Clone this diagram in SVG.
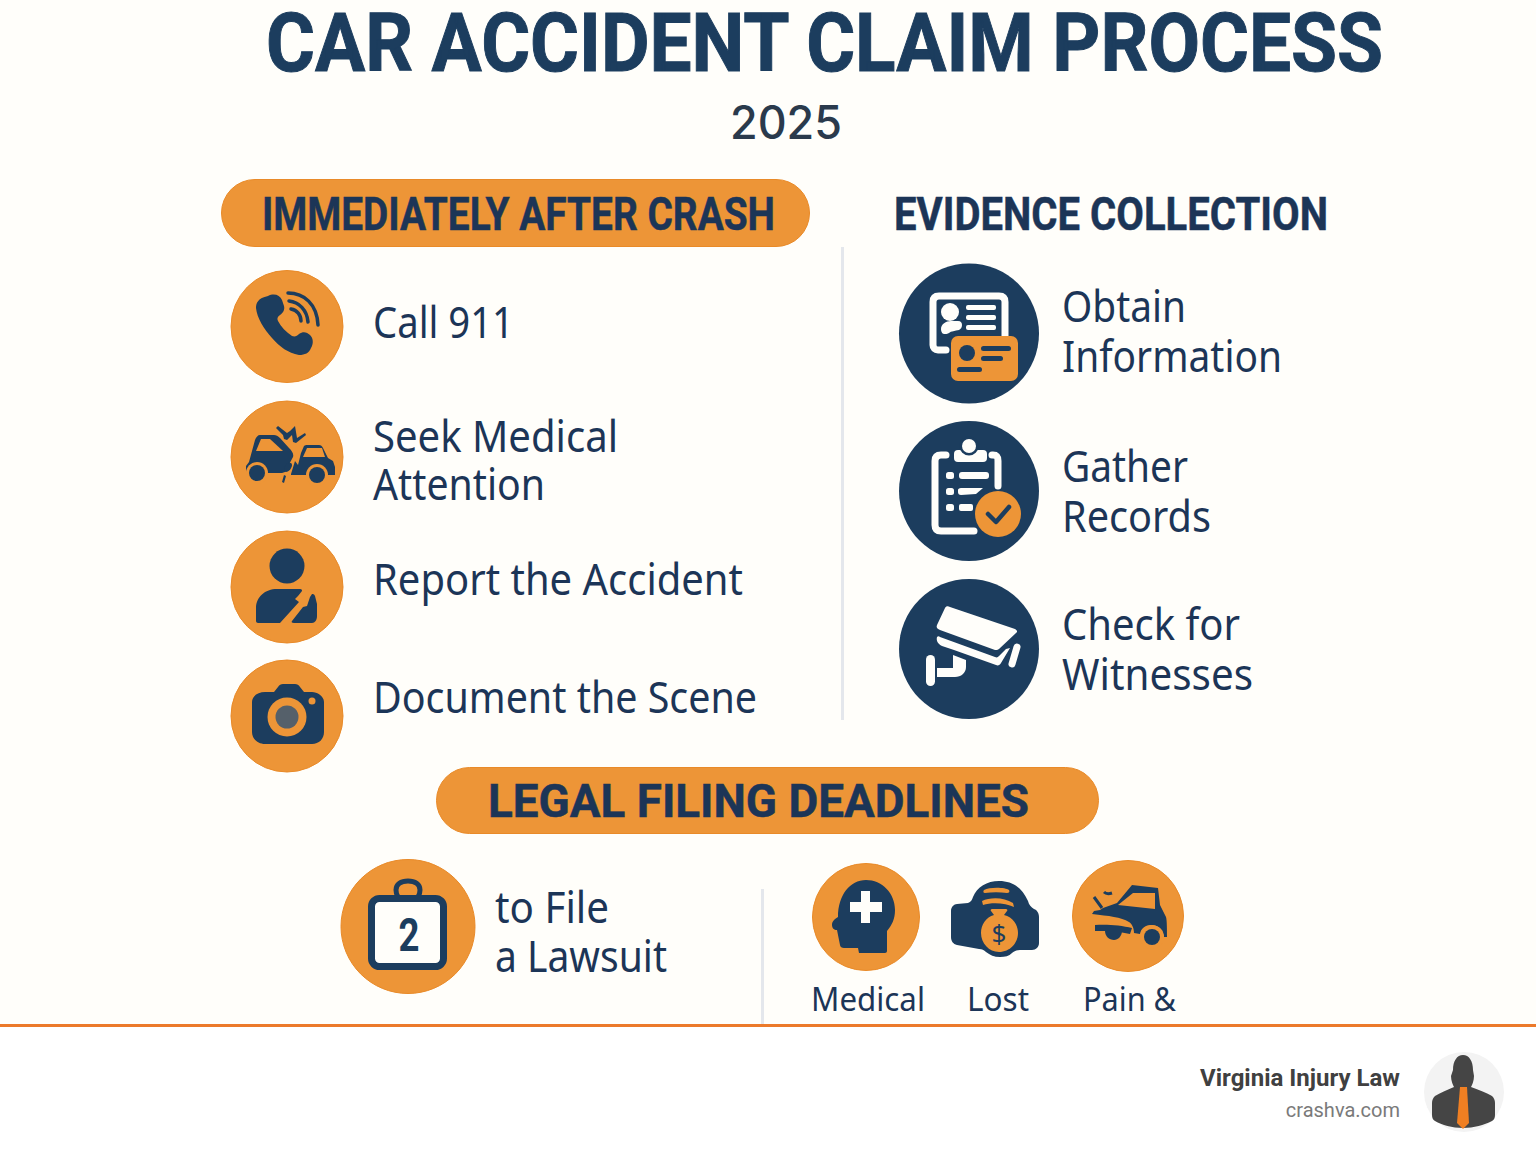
<svg xmlns="http://www.w3.org/2000/svg" width="1536" height="1154" viewBox="0 0 1536 1154">
<style>
.n{fill:#1c3d5e}.o{fill:#ed9537}.w{fill:#fffefa}
.oc{fill:#ed9537;stroke:#e98a28;stroke-width:1}
.nc{fill:#1c3d5e}
text{font-family:"Noto Sans","Liberation Sans",sans-serif;fill:#1c3557}
.t{font-size:44px}
.h{font-family:"Roboto","Liberation Sans",sans-serif;font-weight:700;font-size:46px;fill:#1c3557;stroke:#1c3557;stroke-width:.5}
.s{font-size:32px}
</style>
<rect width="1536" height="1154" fill="#fffefa"/>
<g id="title">
<text x="266" y="71" textLength="1117" lengthAdjust="spacingAndGlyphs" style="font-family:Roboto,'Liberation Sans',sans-serif;font-weight:700;font-size:82px;fill:#1c3d5e;stroke:#1c3d5e;stroke-width:1">CAR ACCIDENT CLAIM PROCESS</text>
<text x="730" y="139" textLength="112" lengthAdjust="spacingAndGlyphs" style="font-family:Inter,'Liberation Sans',sans-serif;font-weight:500;font-size:46px;fill:#2a3a4c">2025</text>
</g>
<g id="dividers" fill="#e4e7ec">
<rect x="841" y="247" width="3" height="473"/>
<rect x="761" y="889" width="3" height="136"/>
</g>
<g id="header-immediate">
<rect x="221.500" y="179.500" width="588" height="67" rx="33.500" class="oc"/>
<text class="h" x="262" y="230" textLength="513" lengthAdjust="spacingAndGlyphs">IMMEDIATELY AFTER CRASH</text>
</g>
<g id="header-evidence">
<text class="h" x="894" y="230" textLength="434" lengthAdjust="spacingAndGlyphs">EVIDENCE COLLECTION</text>
</g>
<g id="call-911">
<circle cx="287" cy="326.500" r="56" class="oc"/>
<path class="n" d="M268 296c6-3 12-1 14 4l2 6c1 4-1 7-4 9-3 2-3 4-2 6 3 6 8 11 14 15 3 1 5 0 7-2 4-3 8-2 11 1 3 3 4 8 1 13-2 5-6 7-12 7-11-2-19-8-27-17-8-9-15-20-16-30 0-5 2-10 12-12z"/>
<g fill="none" stroke="#1c3d5e" stroke-width="3.500" stroke-linecap="round"><path d="M288 293c16 0 29 11 30 32"/><path d="M289 301c10 1 18 9 19 21"/><path d="M291 309c6 1 10 6 10 12"/></g>
<text class="t" x="373" y="338" textLength="141" lengthAdjust="spacingAndGlyphs">Call 911</text>
</g>
<g id="seek-medical">
<circle cx="287" cy="457" r="56" class="oc"/>
<path class="n" d="M246 466l3-4 6-22c1-3 3-5 5-5h14c2 0 4 1 6 3l9 10c3 3 5 6 4 9l-8 15-3 1h-33c-3 0-3-3-3-7z"/>
<path class="o" d="M256 451l5-12h9l13 12z"/>
<circle cx="257" cy="473" r="11" class="o"/><circle cx="257" cy="473" r="8" class="n"/>
<path class="n" d="M291 474l4-13 3 4 3-12 3-7c1-1 2-1 3-1h12c2 0 3 1 4 3l5 10 5 3 2 6v8h-44z"/>
<path class="o" d="M303 457l4-9h15l3 9z"/>
<circle cx="317" cy="475" r="11" class="o"/><circle cx="317" cy="475" r="8" class="n"/>
<path class="n" d="M276 428l2-2 9 7 3-2 5-5 2 12 8-5 1 2-10 8-3-1-1-7-5 5-3-1-1-4z"/>
<path class="n" d="M286 465c2-3 6-3 6 0 0 3-3 7-6 7-3 0-2-4 0-7zM284 475l2 1-2 7-2-1z"/>
<text class="t" x="373" y="452" textLength="245" lengthAdjust="spacingAndGlyphs">Seek Medical</text>
<text class="t" x="373" y="500" textLength="172" lengthAdjust="spacingAndGlyphs">Attention</text>
</g>
<g id="report-accident">
<circle cx="287" cy="587" r="56" class="oc"/>
<circle cx="287" cy="566" r="17.500" class="n"/>
<path class="n" d="M256 621v-13c0-11 9-19 21-19h23c2 0 2 1 2 2l-4 5-3 3 4 3-19 21h-22c-1 0-2-1-2-2z"/>
<path class="n" d="M292 621l11-14 4-1 3-9 2-3c1 0 2 0 3 2l2 8v12c0 4-2 7-5 7h-18c-2 0-3-1-2-2z"/>
<text class="t" x="373" y="595" textLength="370" lengthAdjust="spacingAndGlyphs">Report the Accident</text>
</g>
<g id="document-scene">
<circle cx="287" cy="716" r="56" class="oc"/>
<path class="n" d="M265 692h9l4-5c1-2 3-3 5-3h12c2 0 4 1 5 3l4 5h8c5 0 12 4 12 10v30c0 7-5 12-12 12h-47c-7 0-13-5-13-12v-30c0-6 6-10 13-10z"/>
<circle cx="287" cy="717" r="19.500" class="o"/>
<circle cx="287" cy="717" r="11.500" fill="#55606a"/>
<circle cx="312" cy="701" r="3.500" class="o"/>
<text class="t" x="373" y="713" textLength="384" lengthAdjust="spacingAndGlyphs">Document the Scene</text>
</g>
<g id="obtain-information">
<circle cx="969" cy="333.500" r="70" class="nc"/>
<path fill="none" stroke="#fffefa" stroke-width="7" stroke-linecap="round" stroke-linejoin="round" d="M1005 336v-34c0-4-2-6-6-6h-60c-4 0-6 2-6 6v43c0 3 2 5 5 5h8"/>
<circle cx="950" cy="312" r="9" class="w"/>
<path class="w" d="M941 329c0-5 5-8 10-8h7c3 0 4 2 4 4 0 2-1 4-3 5-4 1-8 1-10 3-1 1-4 1-5 1-2 0-3-3-3-5z"/>
<g fill="#fffefa"><rect x="966" y="305" width="30" height="5" rx="2"/><rect x="966" y="315" width="30" height="5" rx="2"/><rect x="966" y="325" width="30" height="5" rx="2"/></g>
<rect x="951" y="336" width="67" height="45" rx="7" class="o"/>
<circle cx="967" cy="353" r="8" class="n"/>
<g fill="#1c3d5e"><rect x="981" y="346" width="30" height="5" rx="2.500"/><rect x="981" y="356" width="22" height="5" rx="2.500"/><rect x="957" y="367" width="25" height="5" rx="2.500"/></g>
<text class="t" x="1062" y="322" textLength="124" lengthAdjust="spacingAndGlyphs">Obtain</text>
<text class="t" x="1062" y="372" textLength="220" lengthAdjust="spacingAndGlyphs">Information</text>
</g>
<g id="gather-records">
<circle cx="969" cy="491" r="70" class="nc"/>
<path fill="none" stroke="#fffefa" stroke-width="7" stroke-linecap="round" stroke-linejoin="round" d="M946 455h-5c-4 0-6 2-6 6v64c0 4 2 6 6 6h33M992 455h1c4 0 5 2 5 6v25"/>
<rect x="954" y="450" width="33" height="12" rx="4" class="w"/>
<circle cx="969" cy="446" r="9.500" class="n"/>
<circle cx="969" cy="446" r="7" class="w"/>
<g fill="#fffefa"><rect x="946" y="472" width="8" height="7" rx="2.500"/><rect x="946" y="488" width="8" height="7" rx="2.500"/><rect x="946" y="504" width="8" height="7" rx="2.500"/><rect x="959" y="472" width="30" height="7" rx="3"/><path d="M961 488h22l-7 6-15 1c-2 0-3-1-3-3v-2c0-1 1-2 3-2z"/><rect x="959" y="504" width="14" height="7" rx="2"/></g>
<circle cx="998" cy="514" r="23" class="o"/>
<path fill="none" stroke="#1c3d5e" stroke-width="4.500" stroke-linecap="round" stroke-linejoin="round" d="M988 514l8 8 13-15"/>
<text class="t" x="1062" y="482" textLength="126" lengthAdjust="spacingAndGlyphs">Gather</text>
<text class="t" x="1062" y="532" textLength="149" lengthAdjust="spacingAndGlyphs">Records</text>
</g>
<g id="check-witnesses">
<circle cx="969" cy="649" r="70" class="nc"/>
<path class="w" d="M945 608c1-2 3-2 5-1l65 22c2 1 3 3 1 4l-17 16c-1 1-3 1-4 1l-55-20c-3-1-4-3-3-5z"/>
<path class="w" d="M937 637c1-1 2-1 3 0l55 20c2 1 3 0 4-1l7-7 4-1-9 15c-1 2-3 3-5 2l-42-15-12-4c-4-2-6-5-5-9z"/>
<path class="w" d="M937 668h16v-13l13 5v7c0 6-5 10-11 10h-18z"/>
<rect x="926" y="655" width="9" height="31" rx="4.500" class="w"/>
<path d="M1012 664l5-17" stroke="#fffefa" stroke-width="7" stroke-linecap="round"/>
<text class="t" x="1062" y="640" textLength="178" lengthAdjust="spacingAndGlyphs">Check for</text>
<text class="t" x="1062" y="690" textLength="191" lengthAdjust="spacingAndGlyphs">Witnesses</text>
</g>
<g id="header-legal">
<rect x="436.500" y="767.500" width="662" height="66" rx="33" class="oc"/>
<text class="h" x="488" y="817" textLength="541" lengthAdjust="spacingAndGlyphs">LEGAL FILING DEADLINES</text>
</g>
<g id="to-file-lawsuit">
<circle cx="408" cy="926.500" r="67" class="oc"/>
<path fill="none" stroke="#1c3d5e" stroke-width="5" d="M398 897c-2-3-2-5-2-7 0-6 5-9 12-9s12 3 12 9c0 2 0 4-2 7"/>
<rect x="371.500" y="898.500" width="72" height="68" rx="8" fill="#fffefa" stroke="#1c3d5e" stroke-width="7"/>
<text x="409" y="951" text-anchor="middle" textLength="21" lengthAdjust="spacingAndGlyphs" style="font-family:Roboto,sans-serif;font-weight:700;font-size:46px;fill:#1c3d5e">2</text>
<text class="t" x="495" y="923" textLength="114" lengthAdjust="spacingAndGlyphs">to File</text>
<text class="t" x="495" y="972" textLength="172" lengthAdjust="spacingAndGlyphs">a Lawsuit</text>
</g>
<g id="medical">
<circle cx="866" cy="917" r="53.500" class="oc"/>
<path class="n" d="M838 917c0-22 12-37 28-37 16 0 29 13 29 30 0 9-3 15-8 21v20c0 1-1 2-2 2h-26l-1-5h-14c-2 0-4-1-4-3l-3-15c-3 0-5-2-5-5 0-4 3-6 6-8z"/>
<path class="w" d="M861 891h9v11h12v10h-12v11h-9v-11h-11v-10h11z"/>
<text class="s" x="811" y="1011" textLength="114" lengthAdjust="spacingAndGlyphs">Medical</text>
</g>
<g id="lost">
<path class="n" d="M957 904l11-1c3-1 4-3 5-6 4-10 14-16 26-16 14 0 23 7 29 20 1 4 3 6 6 8 3 1 5 4 5 8v26c0 4-3 7-7 7h-12c-3 0-6 1-8 3-3 3-7 4-12 4-6 0-10-2-14-5-2-2-4-3-7-3l-22-4c-4-1-6-4-6-8v-26c0-4 3-7 6-7z"/>
<path class="o" d="M984 890c5-3 21-3 25 0 1 2 0 3-2 3-7-1-15-1-22 0-2 0-2-2-1-3zM982 901c8-4 22-4 31 2l1 4c-8-4-22-5-31-2z"/>
<path class="o" d="M994 915l-3-4c-1-1 0-2 1-2h14c1 0 2 1 1 2l-3 4c9 2 14 10 14 18 0 10-8 19-19 19-10 0-18-9-18-19 0-8 5-16 13-18z"/>
<text x="999" y="943" text-anchor="middle" style="font-family:'Noto Sans',sans-serif;font-size:26px;fill:#1c3d5e">$</text>
<text class="s" x="967" y="1011" textLength="62" lengthAdjust="spacingAndGlyphs">Lost</text>
</g>
<g id="pain">
<circle cx="1128" cy="916" r="55.500" class="oc"/>
<path class="n" d="M1103 908l14-5 15-18 26 3 2 17 6 12c1 3 1 14 1 20h-3c-1-8-6-12-13-12-5 0-10 3-11 9l-6-1c0-5-2-9-5-11-8-5-20-6-37-8l2-3 6-1z"/>
<path class="o" d="M1118 905l15-12h22v16z"/>
<path class="n" d="M1095 925c10-1 26 0 37 3l-2 6-16-3h-19z"/>
<path class="n" d="M1105 931h17c0 5-4 9-8 9-5 0-9-4-9-9z"/>
<circle cx="1152" cy="937" r="12" class="o"/><circle cx="1152" cy="937" r="8" class="n"/>
<path fill="none" stroke="#1c3d5e" stroke-width="3" d="M1094 897l8 11M1104 892c2 2 5 2 8 1"/>
<text class="s" x="1083" y="1011" textLength="93" lengthAdjust="spacingAndGlyphs">Pain &amp;</text>
</g>
<g id="footer">
<rect x="0" y="1026" width="1536" height="128" fill="#fff"/>
<rect x="0" y="1024" width="1536" height="3" fill="#ec7a2b"/>
<text x="1400" y="1086" text-anchor="end" style="font-family:Roboto,sans-serif;font-weight:700;font-size:24px;fill:#404040">Virginia Injury Law</text>
<text x="1400" y="1117" text-anchor="end" style="font-family:Roboto,sans-serif;font-size:20px;fill:#7a7a7a">crashva.com</text>
<circle cx="1464" cy="1092" r="40" fill="#f3f3f3"/>
<path fill="#454545" d="M1453 1070c0-9 4-15 10-15s10 6 10 15l1 6c0 5-2 9-3 11 8 3 16 6 21 9 2 2 3 4 3 7v12c0 3-1 5-3 6-8 4-18 7-29 7s-21-3-28-7c-2-1-3-3-3-6v-12c0-3 1-5 3-7 5-3 12-6 19-9-1-2-3-6-3-11z"/>
<path fill="#f07f22" d="M1460 1087h7l2 36-6 6-6-6z"/>
</g>
</svg>
